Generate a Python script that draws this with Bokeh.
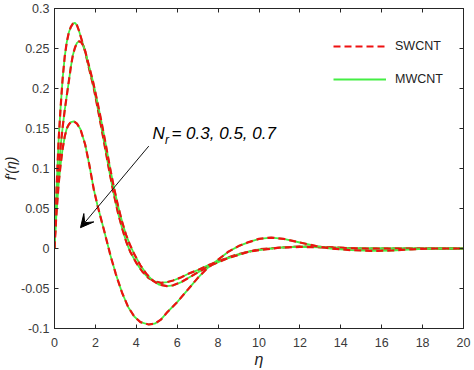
from bokeh.plotting import figure
from bokeh.models import (LinearAxis, FixedTicker, CustomJSTickFormatter, Label, Title,
                          Arrow, VeeHead, Legend, LegendItem, Range1d)
from bokeh.embed import file_html
from bokeh.resources import INLINE

# ---- data ----
x_ticks = [0, 2, 4, 6, 8, 10, 12, 14, 16, 18, 20]
y_ticks = [-0.1, -0.05, 0, 0.05, 0.1, 0.15, 0.2, 0.25, 0.3]

eta_03 = [0, 0.05, 0.1, 0.15, 0.2, 0.3, 0.4, 0.5, 0.6, 0.7, 0.8, 0.9, 1.0, 1.1, 1.2, 1.35,
          1.5, 1.7, 1.9, 2.1, 2.3, 2.5, 2.7, 2.9, 3.1, 3.3, 3.5, 3.7, 4.0, 4.3, 4.6, 4.9,
          5.2, 5.5, 5.8, 6.2, 6.6, 7.0, 7.5, 8.0, 8.5, 9.0, 9.5, 10, 11, 12, 13, 14, 15, 16, 18, 20]
f_03 = [0, 0.04, 0.075, 0.105, 0.135, 0.177, 0.213, 0.240, 0.258, 0.270, 0.277, 0.281, 0.282,
        0.279, 0.272, 0.259, 0.246, 0.224, 0.203, 0.177, 0.150, 0.122, 0.094, 0.068, 0.045,
        0.026, 0.009, -0.004, -0.018, -0.029, -0.037, -0.041, -0.043, -0.042, -0.040, -0.036,
        -0.031, -0.027, -0.021, -0.016, -0.011, -0.007, -0.004, -0.001, 0.001, 0.0025, 0.002,
        0.001, 0.0, 0.0, 0.0, 0.0]

eta_05 = [0, 0.05, 0.1, 0.2, 0.3, 0.4, 0.5, 0.6, 0.7, 0.8, 0.9, 1.0, 1.1, 1.2, 1.3, 1.4, 1.5,
          1.7, 1.9, 2.1, 2.3, 2.5, 2.7, 2.9, 3.1, 3.3, 3.5, 3.7, 3.9, 4.2, 4.5, 4.8, 5.1, 5.5,
          5.8, 6.2, 6.6, 7.0, 7.5, 8.0, 8.5, 9.0, 9.5, 10, 11, 12, 13, 14, 15, 16, 18, 20]
f_05 = [0, 0.03, 0.055, 0.095, 0.128, 0.152, 0.173, 0.191, 0.209, 0.227, 0.242, 0.251, 0.257,
        0.259, 0.258, 0.254, 0.247, 0.227, 0.207, 0.183, 0.158, 0.131, 0.103, 0.077, 0.054,
        0.034, 0.017, 0.004, -0.007, -0.021, -0.032, -0.040, -0.045, -0.047, -0.046, -0.042,
        -0.036, -0.030, -0.023, -0.017, -0.012, -0.008, -0.004, -0.002, 0.001, 0.002, 0.0015,
        0.0005, 0.0, 0.0, 0.0, 0.0]

eta_07 = [0, 0.05, 0.1, 0.2, 0.3, 0.4, 0.5, 0.6, 0.7, 0.8, 0.95, 1.1, 1.27, 1.5, 1.7, 1.92,
          2.1, 2.41, 2.74, 3.0, 3.3, 3.6, 3.9, 4.2, 4.6, 4.9, 5.2, 5.5, 6.0, 6.5, 7.0, 7.5, 8.0,
          8.5, 9.0, 9.5, 10.0, 10.6, 11.2, 12.0, 12.8, 13.5, 14.5, 15.5, 16.5, 17.5, 18.5, 20]
f_07 = [0, 0.025, 0.045, 0.08, 0.105, 0.125, 0.140, 0.150, 0.155, 0.158, 0.159, 0.156, 0.149,
        0.130, 0.105, 0.074, 0.054, 0.024, -0.009, -0.032, -0.055, -0.073, -0.085, -0.092,
        -0.095, -0.094, -0.089, -0.080, -0.067, -0.052, -0.037, -0.024, -0.014, -0.004, 0.003,
        0.008, 0.012, 0.0137, 0.012, 0.0075, 0.003, 0.0, -0.002, -0.003, -0.0025, -0.001, 0.0, 0.0]

series = [(eta_03, f_03), (eta_05, f_05), (eta_07, f_07)]
legend_labels = ["SWCNT", "MWCNT"]
annotation = ["N", "r", "= 0.3, 0.5, 0.7"]
y_label = "f'(η)"
x_label = "η"

# ---- figure ----
FONT = "Liberation Sans"
AX = "#262626"
p = figure(width=474, height=370, output_backend="svg", toolbar_location=None,
           x_range=Range1d(0, 20), y_range=Range1d(-0.1, 0.3),
           min_border_left=54, min_border_right=11, min_border_top=8, min_border_bottom=41)
p.xgrid.visible = False
p.ygrid.visible = False
p.outline_line_color = AX
p.outline_line_width = 1
p.background_fill_color = "white"
p.border_fill_color = "white"

fmt = CustomJSTickFormatter(code="return String(Math.round(tick*100)/100);")
blank = CustomJSTickFormatter(code="return '';")

def style_axis(ax, labels=True):
    ax.major_tick_in = 4
    ax.major_tick_out = 0
    ax.minor_tick_line_color = None
    ax.major_tick_line_color = AX
    ax.axis_line_color = AX
    ax.major_label_text_font = FONT
    ax.major_label_text_font_size = "12.5px" if labels else "0px"
    ax.major_label_text_color = "#3a3a3a"

xa = p.xaxis[0]
xa.ticker = FixedTicker(ticks=x_ticks)
xa.formatter = fmt
style_axis(xa)
xa.major_label_standoff = 9
xa.axis_label = x_label
xa.axis_label_text_font = FONT
xa.axis_label_text_font_style = "italic"
xa.axis_label_text_font_size = "16px"
xa.axis_label_text_color = "#222222"
xa.axis_label_standoff = 1

ya = p.yaxis[0]
ya.ticker = FixedTicker(ticks=y_ticks)
ya.formatter = fmt
style_axis(ya)
ya.major_label_standoff = 5

top = LinearAxis(ticker=FixedTicker(ticks=x_ticks), formatter=blank)
style_axis(top, labels=False)
top.major_label_standoff = 0
right = LinearAxis(ticker=FixedTicker(ticks=y_ticks), formatter=blank)
style_axis(right, labels=False)
right.major_label_standoff = 0
p.add_layout(top, "above")
p.add_layout(right, "right")

# y-axis title as a left-side title
p.add_layout(Title(text=y_label, align="center", text_font=FONT, text_font_style="italic",
                   text_font_size="14px", text_color="#222222", standoff=0, offset=0),
             "left")

green_r = None
red_r = None
for eta, f in series:
    g = p.line(eta, f, line_color="#44ee44", line_width=1.8)
    r = p.line(eta, f, line_color="#ee1111", line_width=2.2, line_dash="7 4")
    green_r = green_r or g
    red_r = red_r or r

legend = Legend(items=[LegendItem(label=legend_labels[0], renderers=[red_r]),
                       LegendItem(label=legend_labels[1], renderers=[green_r])],
                location=(269, 230), glyph_width=53, glyph_height=18, label_height=18,
                label_standoff=9, spacing=15, padding=10, margin=0,
                label_text_font=FONT, label_text_font_size="12.5px",
                label_text_color="#222222", border_line_alpha=0,
                background_fill_color="white", background_fill_alpha=1)
p.add_layout(legend)

p.add_layout(Label(x=4.79, y=0.1437, text=annotation[0], text_font=FONT,
                   text_font_style="italic", text_font_size="17px", text_color="black",
                   text_baseline="alphabetic"))
p.add_layout(Label(x=5.40, y=0.136, text=annotation[1], text_font=FONT,
                   text_font_style="italic", text_font_size="12px", text_color="black",
                   text_baseline="alphabetic"))
p.add_layout(Label(x=5.72, y=0.1437, text=annotation[2], text_font=FONT,
                   text_font_style="italic", text_font_size="17px", text_color="black",
                   text_baseline="alphabetic"))
p.add_layout(Arrow(x_start=4.61, y_start=0.128, x_end=1.27, y_end=0.026,
                   line_color="#111111", line_width=1,
                   end=VeeHead(size=13, fill_color="black", line_color="black")))

open("out.html", "w").write(file_html(p, INLINE))
